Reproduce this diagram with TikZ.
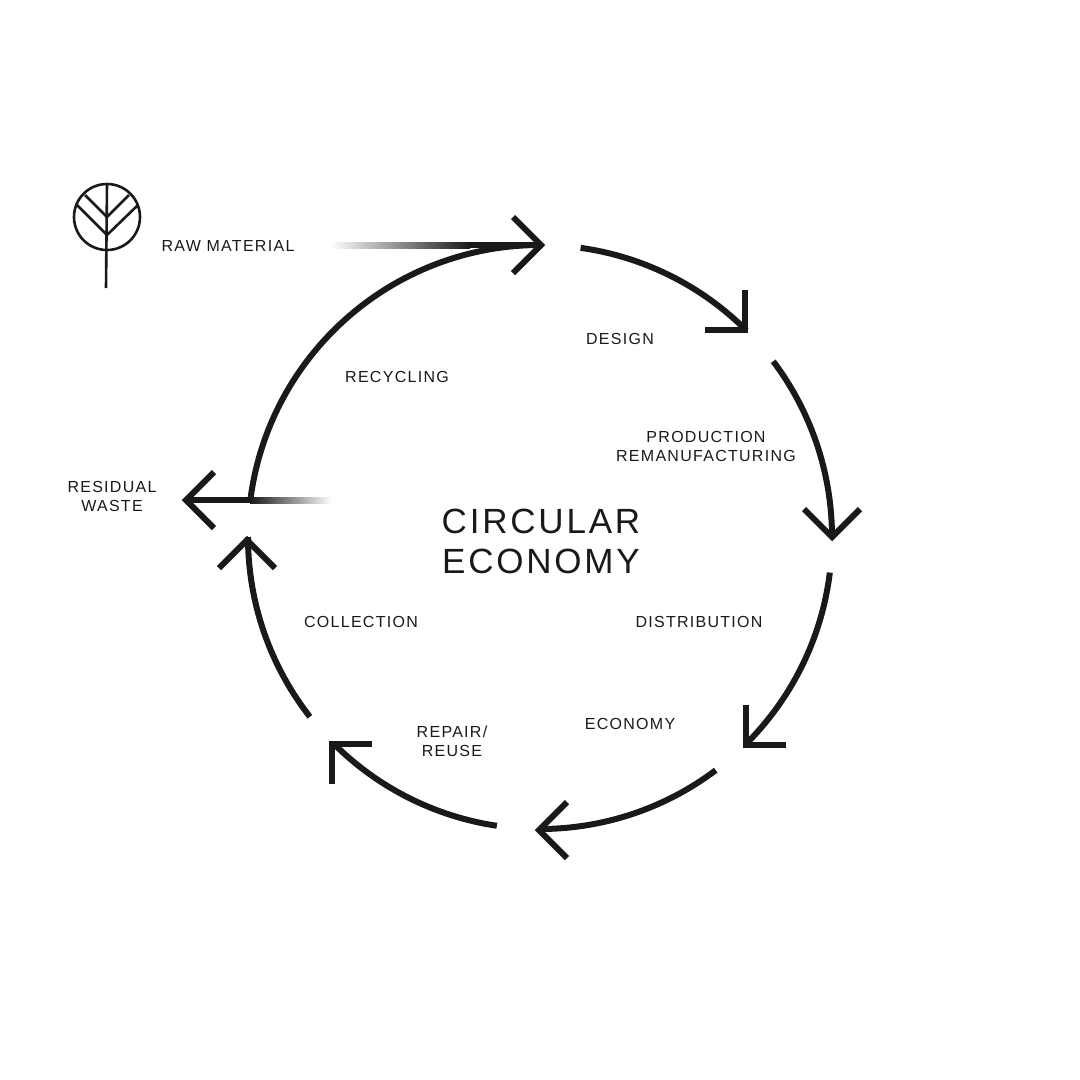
\documentclass[tikz,border=0pt]{standalone}
\usepackage{fontspec}
\usetikzlibrary{calc}
\setmainfont{Liberation Sans}[LetterSpace=8]
\newfontfamily\bigf{Liberation Sans}[LetterSpace=8]
\begin{document}
\begin{tikzpicture}[x=1pt,y=-1pt,
  arc/.style={line width=6pt,draw=black!90},
  chev/.style={line width=6pt,draw=black!90,line join=miter},
  lbl/.style={font=\fontsize{16}{19}\selectfont,align=center,text=black!90,inner sep=0},
  big/.style={font=\bigf\fontsize{35}{40}\selectfont,align=center,text=black!90,inner sep=0}]
\useasboundingbox (0,0) rectangle (1080,1080);
\coordinate (c) at (540,537);
\def\R{292}
\draw[arc] ($(c)+({cos(82)*\R},{-sin(82)*\R})$) coordinate(a1) arc[start angle=-82,end angle=-45,radius=\R] coordinate(e1);
\draw[arc] ($(c)+({cos(37)*\R},{-sin(37)*\R})$) arc[start angle=-37,end angle=0,radius=\R] coordinate(e2);
\draw[arc] ($(c)+({cos(-7)*\R},{-sin(-7)*\R})$) arc[start angle=7,end angle=45,radius=\R] coordinate(e3);
\draw[arc] ($(c)+({cos(-53)*\R},{-sin(-53)*\R})$) arc[start angle=53,end angle=90,radius=\R] coordinate(e4);
\draw[arc] ($(c)+({cos(-98.5)*\R},{-sin(-98.5)*\R})$) arc[start angle=98.5,end angle=135,radius=\R] coordinate(e5);
\draw[arc] ($(c)+({cos(-142)*\R},{-sin(-142)*\R})$) arc[start angle=142,end angle=180,radius=\R] coordinate(e6);
\draw[arc] ($(c)+({cos(173)*\R},{-sin(173)*\R})$) arc[start angle=-173,end angle=-90,radius=\R] coordinate(e7);
\shade[left color=white,right color=black!90] (330,242) rectangle (470,248);
\fill[black!90] (469,242) rectangle (538,248);
\coordinate (top) at (541,245);
\shade[left color=black!90,right color=white] (250,497) rectangle (332,503);
\fill[black!90] (188,497) rectangle (251,503);
\coordinate (rw) at (186,500);
\draw[chev] (513,217) -- (top) -- (513,273);
\draw[chev] (745,290) -- (745,330) -- (705,330);
\draw[chev] (804,509) -- (832,537) -- (860,509);
\draw[chev] (746,705) -- (746,745) -- (786,745);
\draw[chev] (567,802) -- (539,830) -- (567,858);
\draw[chev] (372,744) -- (332,744) -- (332,784);
\draw[chev] (219,568) -- (247,540) -- (275,568);
\draw[chev] (214,472) -- (rw) -- (214,528);
\draw[line width=2.6pt,black!90] (107,217) circle[radius=33];
\draw[line width=2.6pt,black!90] (107,184) -- (106,288);
\draw[line width=2.6pt,black!90] (85,195) -- (107,217) -- (129,195);
\draw[line width=2.6pt,black!90] (77,205) -- (107,235) -- (138,205);
\node[lbl] (raw) at (228,246) {RAW MATERIAL};
\node[lbl] (des) at (620,339) {DESIGN};
\node[lbl] (prod) at (706,446) {PRODUCTION\\REMANUFACTURING};
\node[lbl] (rec) at (397,377) {RECYCLING};
\node[lbl] (res) at (112,496) {RESIDUAL\\WASTE};
\node[big] (ce) at (541,541) {CIRCULAR\\ECONOMY};
\node[lbl] (col) at (361,622) {COLLECTION};
\node[lbl] (dis) at (699,622) {DISTRIBUTION};
\node[lbl] (eco) at (630,724) {ECONOMY};
\node[lbl] (rep) at (452,741) {REPAIR/\\REUSE};
\end{tikzpicture}
\end{document}
